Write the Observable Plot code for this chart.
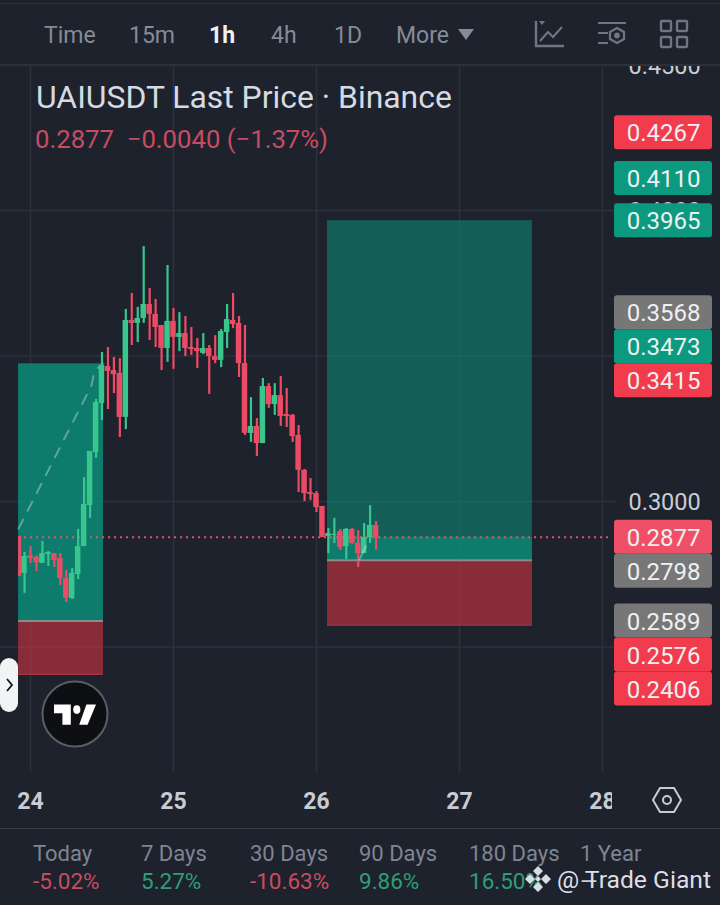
<!DOCTYPE html>
<html><head><meta charset="utf-8">
<script src="https://cdn.jsdelivr.net/npm/d3@7"></script>
<script src="https://cdn.jsdelivr.net/npm/@observablehq/plot@0.6"></script>
<style>
html,body{margin:0;padding:0;background:#1e222d;width:720px;height:905px;overflow:hidden}
body{position:relative;font-family:Roboto,sans-serif}
#chart{position:absolute;left:0;top:65px}
#chart svg{overflow:hidden;background:transparent;display:block;font-family:Roboto,sans-serif}
.a{position:absolute;white-space:pre;line-height:1}
.tab{font-size:23px;color:#858b98;top:24px}
.lab{font-size:22px;color:#7f8592;top:843px}
.val{font-size:22.500px;top:870px}
.up{color:#2f9e76}.dn{color:#c84c60}
</style></head><body>
<div id="chart"></div>
<div class="a" style="left:0;top:3px;width:720px;height:1px;background:#2e323d"></div>
<div class="a" style="left:0;top:64px;width:720px;height:2px;background:#2c303b"></div>
<div class="a" style="left:0;top:828px;width:720px;height:1px;background:#3a3f4a"></div>
<div id="tabs"></div>
<div class="a" style="left:458px;top:29px;width:0;height:0;border-left:8px solid transparent;border-right:8px solid transparent;border-top:11px solid #858b98"></div>
<svg class="a" style="left:532px;top:18px" width="36" height="32" fill="none" stroke="#6f7583" stroke-width="2.4"><path d="M4 3V28H32"/><path d="M8 23L16 14L21 19L30 9" stroke-width="2"/><path d="M7 3h6l-3 4z" fill="#6f7583" stroke="none"/></svg>
<svg class="a" style="left:596px;top:18px" width="34" height="32" fill="none" stroke="#6f7583" stroke-width="2.2"><path d="M2 5H30M2 15H12M2 25H12"/><path d="M21 10l7 4v7l-7 4l-7-4v-7z"/><circle cx="21" cy="17.500" r="1.800" fill="#6f7583"/></svg>
<svg class="a" style="left:659px;top:19px" width="30" height="30" fill="none" stroke="#6f7583" stroke-width="2.4"><rect x="2" y="2" width="10" height="10" rx="1"/><rect x="18" y="2" width="10" height="10" rx="1"/><rect x="2" y="18" width="10" height="10" rx="1"/><rect x="18" y="18" width="10" height="10" rx="1"/></svg>
<div class="a" id="title" style="left:36px;top:82px;font-size:31.900px;color:#d6dae2">UAIUSDT Last Price · Binance</div>
<div class="a" style="left:35px;top:127px;font-size:25.700px;color:#c84c60">0.2877  −0.0040 (−1.37%)</div>
<div class="a" style="left:0;top:658px;width:18px;height:54px;background:#f2f3f5;border-radius:9px"></div>
<svg class="a" style="left:3px;top:677px" width="12" height="16" fill="none" stroke="#111" stroke-width="1.800"><path d="M4 2L9 8L4 14"/></svg>
<svg class="a" style="left:41px;top:680px" width="68" height="68"><circle cx="34" cy="34" r="32.500" fill="#0e0f12" stroke="#5a5d65" stroke-width="2"/><g transform="translate(13,23) scale(1.200,1.450)" fill="#fff"><path d="M14 15H7V7H0V1h14zM28 15h-7l6-14h8z"/><circle cx="19" cy="4.500" r="3"/></g></svg>
<div class="a" style="left:612px;top:782px;width:36px;height:38px;background:#1e222d"></div>
<svg class="a" style="left:651px;top:785px" width="32" height="30" fill="none" stroke="#c8ccd4" stroke-width="2"><path d="M9 3H23L30 15L23 27H9L2 15z"/><circle cx="16" cy="15" r="4"/></svg>
<div id="stats"></div>
<svg class="a" style="left:524px;top:865px" width="28" height="28" fill="#d9dce2"><path d="M14 1l5 5-5 5-5-5zM6 9l5 5-5 5-5-5zM22 9l5 5-5 5-5-5zM14 11l3 3-3 3-3-3zM14 17l5 5-5 5-5-5z"/></svg>
<div class="a" style="left:557px;top:868px;font-size:24.700px;color:#dcdfe5">@ Trade Giant</div>
<script>
// Candles, one per hour; hour 0 is the start of the 24th
const hours = d3.range(-2, 59);
const opens = [.2880,.2753,.2814,.2808,.2787,.2818,.2821,.2804,.2735,.2667,.2749,.2845,.2986,.3168,.3337,.3464,.3450,.3440,.3289,.3622,.3612,.3629,.3677,.3643,.3605,.3526,.3619,.3564,.3577,.3529,.3526,.3509,.3526,.3498,.3485,.3581,.3622,.3612,.3474,.3234,.3258,.3199,.3395,.3333,.3364,.3299,.3296,.3227,.3107,.3031,.3027,.2983,.2880,.2883,.2897,.2845,.2904,.2856,.2821,.2876,.2918];
const highs = [.2880,.2825,.2845,.2814,.2863,.2828,.2821,.2821,.2763,.2770,.2904,.3082,.3172,.3351,.3512,.3529,.3495,.3491,.3660,.3715,.3667,.3876,.3732,.3694,.3605,.3811,.3663,.3649,.3636,.3598,.3560,.3577,.3536,.3570,.3591,.3677,.3715,.3636,.3605,.3357,.3285,.3423,.3405,.3405,.3430,.3388,.3299,.3261,.3110,.3079,.3034,.2983,.2907,.2942,.2904,.2907,.2907,.2900,.2924,.2986,.2931];
const lows = [.2742,.2684,.2787,.2759,.2787,.2777,.2773,.2711,.2653,.2663,.2732,.2845,.2942,.3148,.3278,.3316,.3371,.3220,.3247,.3536,.3546,.3612,.3553,.3529,.3450,.3478,.3454,.3515,.3498,.3502,.3457,.3505,.3368,.3474,.3460,.3526,.3594,.3426,.3227,.3203,.3155,.3199,.3320,.3296,.3258,.3254,.3203,.3031,.3000,.3003,.2962,.2876,.2821,.2856,.2832,.2801,.2852,.2773,.2821,.2856,.2832];
const closes = [.2742,.2811,.2804,.2790,.2821,.2825,.2797,.2735,.2667,.2753,.2845,.2990,.3172,.3340,.3467,.3447,.3436,.3289,.3622,.3612,.3629,.3677,.3643,.3598,.3526,.3619,.3564,.3577,.3526,.3522,.3515,.3526,.3498,.3485,.3584,.3625,.3608,.3474,.3234,.3258,.3199,.3395,.3333,.3364,.3292,.3292,.3223,.3107,.3027,.3024,.2979,.2876,.2890,.2887,.2842,.2904,.2856,.2821,.2876,.2918,.2876];

// Long-position tools
const toolStart = [-2, 49.85];
const toolEnd = [12.25, 84.25];
const toolTarget = [.3473, .3965];
const toolEntry = [.2589, .2798];
const toolStop = [.2406, .2576];
const toolReached = [.3473, .2877];

const lastPrice = .2877;
const gridPrices = [.25, .30, .35, .40, .45];
const axisPrices = [.30, .40, .45];
const dayTicks = [0, 24, 48, 72, 96];
const firstDay = 24;

// Dashed path drawn over the tools
const pathHours = [-2, 10.25, 10.75, 12.25];
const pathPrices = [.2907, .3399, .3450, .3474];
const path2Hours = [55.2, 56.3];
const path2Prices = [.2800, .2846];

// Price badges: value, kind, the price they hang from, and rows of displacement
const badgeValues = [.4267,.4110,.3965,.3568,.3473,.3415,.2877,.2798,.2589,.2576,.2406];
const badgeKinds = ["red","green","green","gray","green","red","last","gray","gray","red","red"];
const badgeAnchors = [.4267,.4110,.3965,.3415,.3415,.3415,.2877,.2877,.2589,.2589,.2589];
const badgeRows = [0,0,0,-2,-1,0,0,1,0,1,2];

// Header and footer text
const tabNames = ["Time","15m","1h","4h","1D","More"];
const statNames = ["Today","7 Days","30 Days","90 Days","180 Days","1 Year"];
const statValues = ["-5.02%","5.27%","-10.63%","9.86%","16.50%","—"];

const tabLeft=[44,129,209,271,334,396];
tabLeft.forEach((l,i)=>{const e=document.createElement("div");e.className="a tab";e.style.left=l+"px";e.textContent=tabNames[i];
 if(tabNames[i]==="1h"){e.style.color="#eef0f3";e.style.fontWeight=700}document.getElementById("tabs").append(e)});
const statLeft=[33,141,250,359,469,580];
statLeft.forEach((l,i)=>{const s=document.getElementById("stats");
 const a=document.createElement("div");a.className="a lab";a.style.left=l+"px";a.textContent=statNames[i];s.append(a);
 const b=document.createElement("div");b.className="a val "+(statValues[i][0]==="-"?"dn":"up");b.style.left=l+"px";b.textContent=statValues[i];
 if(statValues[i]==="—")b.style.color="#c9ccd3";s.append(b)});

const candles = hours.map((h,i)=>({h,o:opens[i],hi:highs[i],lo:lows[i],c:closes[i]}));
const UP="#38c68c", DOWN="#ec4b66";
const col=d=>d.c>=d.o?UP:DOWN;
const tools = toolStart.map((s,i)=>({s,e:toolEnd[i],t:toolTarget[i],en:toolEntry[i],st:toolStop[i],r:toolReached[i]}));
const badgeFill={red:"#f23b4c",green:"#0b9a80",gray:"#777777",last:"#ef5068"};
const badges=badgeValues.map((v,i)=>({v,k:badgeKinds[i],a:badgeAnchors[i],n:badgeRows[i]}));
const GRID="#2d313c";
const badgeHalf=.00585, rowPx=34;

const plot = Plot.plot({
  width:720,height:763,marginTop:0,marginBottom:56,marginLeft:0,marginRight:92,
  style:{background:"transparent",overflow:"hidden",fontFamily:"Roboto,sans-serif"},
  x:{domain:[-5.035,115.81],range:[0,720]},
  y:{domain:[.20687,.44983],range:[707,0]},
  marks:[
    Plot.ruleX(dayTicks,{y1:.20687,y2:.44983,stroke:GRID,strokeWidth:1.5}),
    Plot.ruleY(gridPrices,{x1:-5.035,x2:98.5,stroke:GRID,strokeWidth:1.5}),
    Plot.axisX({ticks:dayTicks,tickFormat:d=>String(firstDay+d/24),anchor:"bottom",tickSize:0,tickPadding:20,fontSize:23,fontWeight:700,color:"#c8ccd3",fill:"#c8ccd3",label:null}),
    Plot.axisY({ticks:axisPrices,tickFormat:".4f",anchor:"right",tickSize:0,tickPadding:0,dy:1,fontSize:23.5,textAnchor:"start",fill:"#c9cdd4",color:"#c9cdd4",label:null}),
    Plot.rect(tools,{x1:"s",x2:"e",y1:"en",y2:"t",fill:"#089981",fillOpacity:.5,inset:0}),
    Plot.rect(tools,{x1:"s",x2:"e",y1:"en",y2:"r",fill:"#089981",fillOpacity:.5,inset:0}),
    Plot.rect(tools,{x1:"s",x2:"e",y1:"st",y2:"en",fill:"#f23645",fillOpacity:.5,inset:0}),
    Plot.ruleY(tools,{y:"st",x1:"s",x2:"e",stroke:"#a83345",strokeWidth:1.5}),
    Plot.ruleY(tools,{y:"en",x1:"s",x2:"e",stroke:"#8b8b8b",strokeWidth:2}),
    Plot.line(pathHours.map((h,i)=>({h,p:pathPrices[i]})),{x:"h",y:"p",stroke:"#fff",strokeOpacity:.33,strokeWidth:2,strokeDasharray:"10,10"}),
    Plot.ruleY([lastPrice],{x1:-2,x2:97.5,stroke:"#ee4f68",strokeWidth:2,strokeDasharray:"2,4"}),
    Plot.ruleX(candles,{x:"h",y1:"lo",y2:"hi",stroke:col,strokeWidth:2.2,filter:d=>d.h>-2}),
    Plot.rect(candles,{x1:d=>d.h===-2?d.h:d.h-.46,x2:d=>d.h===-2?d.h+.5:d.h+.46,y1:"o",y2:"c",fill:col,inset:0}),
    Plot.line(path2Hours.map((h,i)=>({h,p:path2Prices[i]})),{x:"h",y:"p",stroke:"#fff",strokeOpacity:.3,strokeWidth:2}),
    ...badges.map(b=>Plot.rect([b],{x1:98.02,x2:114.47,y1:d=>d.a-badgeHalf,y2:d=>d.a+badgeHalf,dy:b.n*rowPx,fill:badgeFill[b.k],rx:3})),
    ...badges.map(b=>Plot.text([b],{x:106.25,y:"a",dy:b.n*rowPx+1,text:d=>d.v.toFixed(4),fill:"#eef0f2",fontSize:24,textAnchor:"middle"}))
  ]
});
document.getElementById("chart").append(plot);
</script>
</body></html>
